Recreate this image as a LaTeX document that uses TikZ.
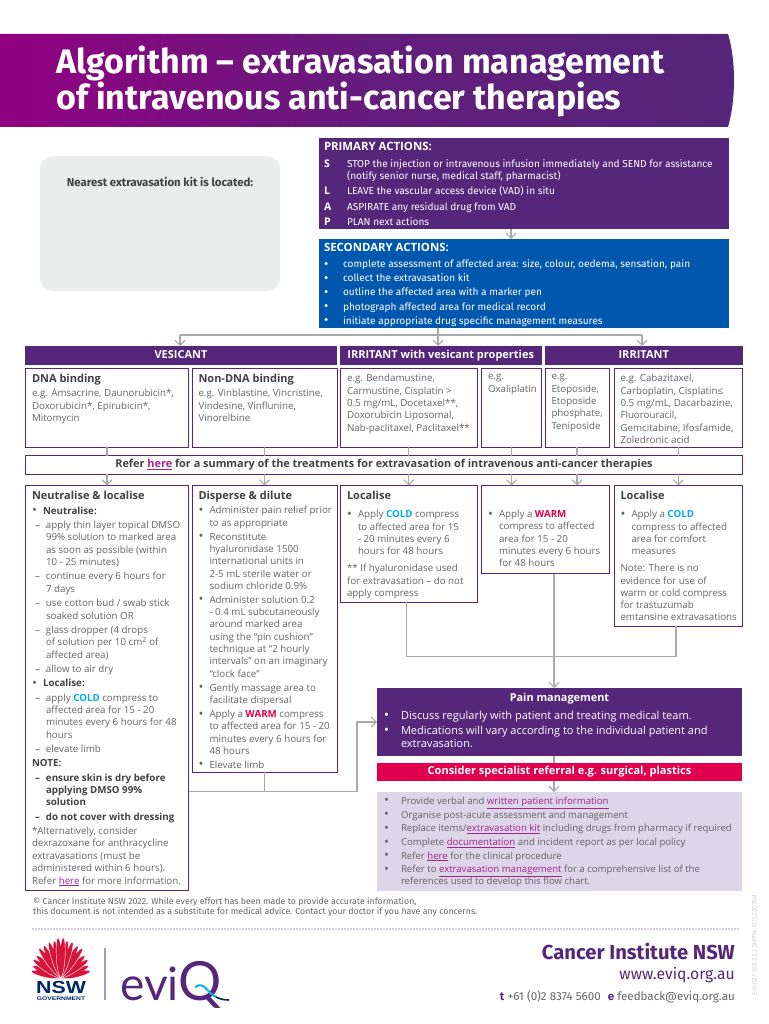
\documentclass[tikz,border=0pt]{standalone}
\usepackage{fontspec}
\setmainfont{Open Sans}
\newfontfamily\titlefont[Ligatures=TeX]{Fira Sans}
\newfontfamily\logofont{Lato}
\newfontfamily\govfont{Liberation Sans}
\usepackage{xcolor}
\usetikzlibrary{arrows.meta, positioning, calc}

\definecolor{eviPurple}{HTML}{55267A}
\definecolor{eviMagenta}{HTML}{920082}
\definecolor{eviBlue}{HTML}{0057AE}
\definecolor{eviLilac}{HTML}{DDD5E8}
\definecolor{eviRed}{HTML}{E0004D}
\definecolor{kitGray}{HTML}{EBECEC}
\definecolor{connGray}{HTML}{A7A9AC}
\definecolor{bodyGray}{HTML}{636466}
\definecolor{headGray}{HTML}{414042}
\definecolor{linkPurple}{HTML}{A3238E}
\definecolor{coldBlue}{HTML}{00AEEF}
\definecolor{nswRed}{HTML}{D7153A}
\definecolor{nswNavy}{HTML}{002664}

\newcommand{\bodysize}{\fontsize{9.75}{12.3}\selectfont}
\newcommand{\headsize}{\fontsize{11}{12.3}\selectfont\bfseries}
\newcommand{\hlink}[1]{\textcolor{linkPurple}{\underline{#1}}}
\newcommand{\cold}{\textcolor{coldBlue}{\textbf{COLD}}}
\newcommand{\warm}{\textcolor{eviRed}{\textbf{WARM}}}
\newcommand{\leftflush}{\raggedright\setlength{\rightskip}{-6pt plus 1fil}\def\\{\newline}}
\newcommand{\cellbox}[3]{\parbox[t][#2pt][t]{#1pt}{\setlength{\parskip}{1.7pt}\leftflush #3}}
\newcommand{\bulmark}{\raisebox{-0.6pt}{\fontsize{13}{12}\selectfont\textbullet}}
\newcommand{\bul}[1]{\par\hangindent=11pt\hangafter=1\noindent\makebox[11pt][l]{\bulmark}#1\par}
\newcommand{\dsh}[1]{\par\hangindent=14pt\hangafter=1\noindent\hspace*{3pt}\makebox[11pt][l]{--}#1\par}
\newcommand{\wbul}[2]{\par\hangindent=#1pt\hangafter=1\noindent\makebox[#1pt][l]{\bulmark}#2\par}
\newcommand{\ltr}[2]{\par\hangindent=23pt\hangafter=1\noindent\makebox[23pt][l]{\rmfamily\fontsize{10.5}{12}\selectfont\bfseries #1}#2\par}
\newcommand{\bandhead}[1]{{\rmfamily\fontsize{11.4}{12}\selectfont\bfseries #1}\par\vspace{2pt}}

\tikzset{
  cellnode/.style={draw=eviPurple, line width=1pt, fill=white, anchor=north west, outer sep=0pt,
    inner xsep=6.5pt, inner ysep=6pt, text=bodyGray, font=\bodysize},
  barnode/.style={fill=eviPurple, text=white, anchor=north west, outer sep=0pt, inner sep=0pt,
    minimum width=#1pt, minimum height=18.5pt, text height=8pt, text depth=2pt, font=\fontsize{11}{12}\selectfont\bfseries},
  fillnode/.style={anchor=north west, outer sep=0pt, inner xsep=5pt, inner ysep=4pt, text=white, font=\bodysize},
  condensed/.style={font=\titlefont\fontsize{10.1}{12.5}\selectfont},
  link/.style={draw=connGray, line width=1.1pt},
  arrowlink/.style={link, -{Straight Barb[length=5pt,width=10pt]}}
}

\begin{document}
\begin{tikzpicture}[x=1pt,y=-1pt]
\useasboundingbox (0,0) rectangle (768,1024);
% Title band
\shade[left color=eviMagenta, right color=eviPurple, middle color=eviPurple!75!eviMagenta, shading angle=90]
  (0,34) -- (728,34) .. controls (736,60) and (736,100) .. (728,127) -- (0,127) -- cycle;
\node[text=white, font=\titlefont\fontsize{34}{35}\selectfont\bfseries, align=left, anchor=north west, inner sep=0pt] (title) at (56,46)
  {Algorithm – extravasation management\\of intravenous anti-cancer therapies};
% Kit box
\node[fill=kitGray, rounded corners=13pt, anchor=north west, minimum width=240pt, minimum height=135pt, outer sep=0pt, inner sep=0pt] (kit) at (40,156) {};
\node[font=\titlefont\fontsize{11.4}{12}\selectfont\bfseries, text=headGray] (kitlabel) at (160,182) {Nearest extravasation kit is located:};
% Primary and secondary actions
\node[fillnode, fill=eviPurple, condensed] (primary) at (319,138) {\cellbox{400}{83}{\setlength{\parskip}{2.6pt}%
  \bandhead{PRIMARY ACTIONS:}
  \ltr{S}{STOP the injection or intravenous infusion immediately and SEND for assistance\\(notify senior nurse, medical staff, pharmacist)}
  \ltr{L}{LEAVE the vascular access device (VAD) in situ}
  \ltr{A}{ASPIRATE any residual drug from VAD}
  \ltr{P}{PLAN next actions}}};
\node[fillnode, fill=eviBlue, condensed] (secondary) at (319,239) {\cellbox{400}{81}{%
  \bandhead{SECONDARY ACTIONS:}
  \wbul{19}{complete assessment of affected area: size, colour, oedema, sensation, pain}
  \wbul{19}{collect the extravasation kit}
  \wbul{19}{outline the affected area with a marker pen}
  \wbul{19}{photograph affected area for medical record}
  \wbul{19}{initiate appropriate drug specific management measures}}};
% Class bars
\node[barnode=312] (vesicant) at (25,346) {VESICANT};
\node[barnode=201.5] (irrves) at (340,346) {IRRITANT with vesicant properties};
\node[barnode=197.5] (irritant) at (545,346) {IRRITANT};
% Drug boxes
\node[cellnode] (dna) at (25.5,368.5) {\cellbox{150}{66.5}{{\headsize\textcolor{headGray}{DNA binding}}\par
  e.g. Amsacrine, Daunorubicin*,\\Doxorubicin*, Epirubicin*,\\Mitomycin}};
\node[cellnode] (nondna) at (192,368.5) {\cellbox{132}{66.5}{{\headsize\textcolor{headGray}{Non-DNA binding}}\par
  e.g. Vinblastine, Vincristine,\\Vindesine, Vinflunine,\\Vinorelbine}};
\node[cellnode] (bendam) at (340.5,368.5) {\cellbox{123.5}{66.5}{e.g. Bendamustine,\\Carmustine, Cisplatin >\\0.5 mg/mL, Docetaxel**,\\Doxorubicin Liposomal,\\Nab-paclitaxel, Paclitaxel**}};
\node[cellnode] (oxali) at (481.5,368.5) {\cellbox{47}{66.5}{e.g.\\Oxaliplatin}};
\node[cellnode] (etopo) at (545,368.5) {\cellbox{51}{66.5}{e.g.\\Etoposide,\\Etoposide\\phosphate,\\Teniposide}};
\node[cellnode] (cabaz) at (614,368.5) {\cellbox{115.5}{66.5}{e.g. Cabazitaxel,\\Carboplatin, Cisplatin≤\\0.5 mg/mL, Dacarbazine,\\Fluorouracil,\\Gemcitabine, Ifosfamide,\\Zoledronic acid}};
% Refer bar
\node[draw=eviPurple, line width=1pt, fill=white, anchor=north west, outer sep=0pt, inner sep=0pt, minimum width=717pt, minimum height=18.5pt,
  text=headGray, font=\fontsize{10.9}{12}\selectfont\bfseries] (refer) at (25.5,455.5)
  {Refer \hlink{here} for a summary of the treatments for extravasation of intravenous anti-cancer therapies};
% Management boxes
\node[cellnode, font=\fontsize{9.75}{12.35}\selectfont] (neutral) at (25.5,485.5) {\cellbox{150}{392.5}{\setlength{\parskip}{2pt}{\headsize\textcolor{headGray}{Neutralise \& localise}}\par
  \bul{\textcolor{headGray}{\textbf{Neutralise:}}}
  \dsh{apply thin layer topical DMSO\\99\% solution to marked area\\as soon as possible (within\\10 - 25 minutes)}
  \dsh{continue every 6 hours for\\7 days}
  \dsh{use cotton bud / swab stick\\soaked solution OR}
  \dsh{glass dropper (4 drops\\of solution per 10 cm\textsuperscript{2} of\\affected area)}
  \dsh{allow to air dry}
  \bul{\textcolor{headGray}{\textbf{Localise:}}}
  \dsh{apply \cold{} compress to\\affected area for 15 - 20\\minutes every 6 hours for 48\\hours}
  \dsh{elevate limb}
  \par{\textcolor{headGray}{\textbf{NOTE:}}}\par
  \color{headGray}\bfseries
  \dsh{ensure skin is dry before\\applying DMSO 99\%\\solution}
  \dsh{do not cover with dressing}
  \mdseries\color{bodyGray}*Alternatively, consider\\dexrazoxane for anthracycline\\extravasations (must be\\administered within 6 hours).\\Refer \hlink{here} for more information.}};
\node[cellnode] (disperse) at (192,485.5) {\cellbox{132}{274.5}{{\headsize\textcolor{headGray}{Disperse \& dilute}}\par
  \bul{Administer pain relief prior\\to as appropriate}
  \bul{Reconstitute\\hyaluronidase 1500\\international units in\\2-5 mL sterile water or\\sodium chloride 0.9\%}
  \bul{Administer solution 0.2\\- 0.4 mL subcutaneously\\around marked area\\using the “pin cushion”\\technique at “2 hourly\\intervals” on an imaginary\\“clock face”}
  \bul{Gently massage area to\\facilitate dispersal}
  \bul{Apply a \warm{} compress\\to affected area for 15 - 20\\minutes every 6 hours for\\48 hours}
  \bul{Elevate limb}}};
\node[cellnode] (localcold) at (340.5,485.5) {\cellbox{123.5}{104.5}{{\headsize\textcolor{headGray}{Localise}}\par\vspace{4pt}
  \bul{Apply \cold{} compress\\to affected area for 15\\- 20 minutes every 6\\hours for 48 hours}
  \vspace{3pt}** If hyaluronidase used\\for extravasation -- do not\\apply compress}};
\node[cellnode] (localwarm) at (481.5,485.5) {\cellbox{114.5}{76}{\vspace*{17pt}
  \bul{Apply a \warm{}\\compress to affected\\area for 15 - 20\\minutes every 6 hours\\for 48 hours}}};
\node[cellnode] (localthree) at (614,485.5) {\cellbox{115.5}{128.5}{{\headsize\textcolor{headGray}{Localise}}\par\vspace{4pt}
  \bul{Apply a \cold{}\\compress to affected\\area for comfort\\measures}
  \vspace{3pt}Note: There is no\\evidence for use of\\warm or cold compress\\for trastuzumab\\emtansine extravasations}};
% Pain and follow up
\node[fillnode, fill=eviPurple, inner xsep=7pt, inner ysep=5pt] (pain) at (377,688) {\cellbox{351}{58}{%
  \centering{\fontsize{10.9}{12}\selectfont\bfseries Pain management}\par\vspace{3pt}\leftflush\fontsize{11}{13.3}\selectfont
  \wbul{17}{Discuss regularly with patient and treating medical team.}
  \wbul{17}{Medications will vary according to the individual patient and\\extravasation.}}};
\node[fill=eviRed, text=white, anchor=north west, outer sep=0pt, inner sep=0pt, minimum width=365pt, minimum height=18.5pt,
  font=\fontsize{11}{12}\selectfont\bfseries] (referral) at (377,762.5) {Consider specialist referral e.g. surgical, plastics};
\node[fillnode, fill=eviLilac, text=bodyGray, inner xsep=7pt, inner ysep=5pt, font=\fontsize{9.6}{12}\selectfont] (aftercare) at (377,792) {\cellbox{351}{89}{%
  \wbul{17}{Provide verbal and \hlink{written patient information}}
  \wbul{17}{Organise post-acute assessment and management}
  \wbul{17}{Replace items/\hlink{extravasation kit} including drugs from pharmacy if required}
  \wbul{17}{Complete \hlink{documentation} and incident report as per local policy}
  \wbul{17}{Refer \hlink{here} for the clinical procedure}
  \wbul{17}{Refer to \hlink{extravasation management} for a comprehensive list of the\\references used to develop this flow chart.}}};
% Junction points
\coordinate (busmid) at (438,335);
\coordinate (busleft) at (180,335);
\coordinate (busright) at (642,335);
\coordinate (stepdown) at (511,233);
\coordinate (mergeleft) at (406.5,656.7);
\coordinate (mergeright) at (676,656.7);
\coordinate (mergemid) at (554,656.7);
\coordinate (joinright) at (357,791.7);
% Connectors
\draw[arrowlink] (stepdown |- primary.south) -- (stepdown |- secondary.north);
\draw[link] (busmid |- secondary.south) -- (busmid);
\draw[link] (busleft) -- (busright);
\draw[arrowlink] (busleft) -- (busleft |- vesicant.north);
\draw[arrowlink] (busmid) -- (busmid |- irrves.north);
\draw[arrowlink] (busright) -- (busright |- irritant.north);
\foreach \cellname/\nextname in {dna/neutral, nondna/disperse, bendam/localcold, oxali/localwarm, etopo/localwarm, cabaz/localthree} {
  \draw[link] (\cellname.south) -- (\cellname.south |- refer.north);
  \draw[arrowlink] (\cellname.south |- refer.south) -- (\cellname.south |- \nextname.north);
}
\draw[link] (mergeleft |- localcold.south) -- (mergeleft) -- (mergeright) -- (mergeright |- localthree.south);
\draw[arrowlink] (mergemid |- localwarm.south) -- (mergemid |- pain.north);
\draw[link] (disperse.south) -- (disperse.south |- joinright);
\draw[arrowlink] (neutral.east |- joinright) -- (joinright) |- (pain.west);
\draw[link] (mergemid |- pain.south) -- (mergemid |- referral.north);
\draw[arrowlink] (mergemid |- referral.south) -- (mergemid |- aftercare.north);
% Footer
\node[anchor=north west, inner sep=0pt, align=left, text=bodyGray, font=\titlefont\fontsize{8.8}{10}\selectfont] (copyright) at (33,897.5)
  {© Cancer Institute NSW 2022. While every effort has been made to provide accurate information,\\this document is not intended as a substitute for medical advice. Contact your doctor if you have any concerns.};
\coordinate (dotstart) at (33,929);
\coordinate (dotend) at (738,929);
\draw[eviPurple, line width=1.3pt, line cap=round, dash pattern=on 0pt off 3pt] (dotstart) -- (dotend);
\node[anchor=east, inner sep=0pt, text=eviPurple, font=\titlefont\fontsize{20.2}{22}\selectfont\bfseries] (institute) at (735,951) {Cancer Institute NSW};
\node[anchor=east, inner sep=0pt, text=eviPurple, font=\titlefont\fontsize{15.7}{18}\selectfont] (website) at (735,975) {www.eviq.org.au};
\node[anchor=east, inner sep=0pt, text=bodyGray, font=\titlefont\fontsize{11.6}{13}\selectfont] (contact) at (735,997)
  {\textcolor{eviPurple}{\textbf{t}} +61 (0)2 8374 5600\hspace{4pt} \textcolor{eviPurple}{\textbf{e}} feedback@eviq.org.au};
\node[rotate=90, inner sep=0pt, text=black!22, font=\fontsize{6.3}{8}\selectfont] (docref) at (755,945) {EO-021108.22 | SHPN: (CI) 220704};
% NSW logo
\coordinate (flower) at (60.7,978);
\foreach \ang/\len in {-72/25,72/25,-52/27,52/27,-32/30,32/30,-14/31,14/31,0/33} {
  \fill[nswRed, draw=white, line width=0.4pt, rotate around={\ang:(flower)}]
    (flower) .. controls +(-7,-10) and +(-5,-\len+7) .. +(0,-\len) .. controls +(5,-\len+7) and +(7,-10) .. (flower);
}
\node[font=\govfont\fontsize{17.5}{18}\selectfont\bfseries, text=nswNavy, inner sep=0pt] (nswword) at (61,987) {\scalebox{1.22}[1]{NSW}};
\node[font=\govfont\fontsize{5.2}{6}\selectfont\bfseries, text=nswNavy, inner sep=0pt] (govword) at (61,999) {\scalebox{1.3}[1]{GOVERNMENT}};
\coordinate (ruletop) at (105,948);
\coordinate (rulebottom) at (105,1000);
\draw[color=blue!30!gray!60, line width=1.2pt] (ruletop) -- (rulebottom);
% eviQ logo
\node[anchor=base west, inner sep=0pt, text=eviPurple, font=\logofont\fontsize{46}{46}\selectfont] (eviword) at (120,1000) {evi};
\node[anchor=base west, inner sep=0pt, text=eviPurple, font=\logofont\fontsize{54}{54}\selectfont] (qword) at (178.5,1000) {Q};
\draw[coldBlue, line width=2pt] (195,987) .. controls (205,981) and (206,992) .. (216,997);
\draw[nswNavy, line width=1.6pt] (216,997) .. controls (220,999) and (224,1000) .. (229,1000);
\end{tikzpicture}
\end{document}
